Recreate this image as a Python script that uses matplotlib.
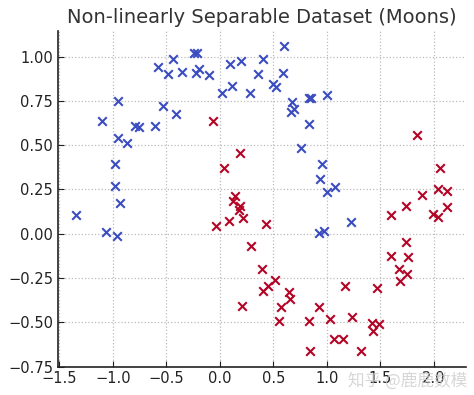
import matplotlib
matplotlib.use("Agg")
import matplotlib.pyplot as plt

# class 0 (upper moon)
x_blue = [-1.099, -0.947, -0.947, -0.866, -0.788, -0.754, -0.605, -0.981, -0.981, -0.928,
          -0.574, -0.483, -0.434, -0.356, -0.533, -0.412, -0.238, -0.213, -0.222, -0.194,
          -0.101, 0.017, 0.117, 0.098, 0.198, 0.285, 0.353,
          0.403, 0.599, 0.590, 0.493, 0.527, 0.673, 0.698, 0.664, 0.835, 0.851, 1.003,
          0.835, 0.760, 0.956, 0.938, 1.003, 1.075,
          -1.339, -1.065, -0.959, 1.224, 0.925, 0.975]
y_blue = [0.638, 0.747, 0.539, 0.514, 0.610, 0.601, 0.608, 0.396, 0.272, 0.173,
          0.939, 0.899, 0.987, 0.914, 0.721, 0.676, 1.019, 1.019, 0.907, 0.929,
          0.895, 0.792, 0.832, 0.959, 0.972, 0.792, 0.904,
          0.987, 1.060, 0.905, 0.843, 0.826, 0.743, 0.706, 0.689, 0.764, 0.764, 0.785,
          0.619, 0.486, 0.394, 0.310, 0.233, 0.265,
          0.103, 0.011, -0.013, 0.068, 0.002, 0.015]

# class 1 (lower moon)
x_red = [-0.063, 0.191, 0.039, 0.145, 0.123, 0.191,
         0.176, 0.213, 0.082, -0.036, 0.288, 0.207,
         1.839, 2.057, 1.889, 2.041, 2.122, 1.737, 2.122,
         0.434, 0.396, 0.518, 0.455, 0.403, 0.651, 0.658, 0.571, 0.555, 0.928, 0.838,
         1.031, 0.844, 1.071, 1.152, 1.174, 1.236, 1.323, 1.423, 1.485, 1.435, 1.469,
         1.600, 1.989, 2.038, 1.743, 1.600, 1.758, 1.674, 1.746, 1.681]
y_red = [0.636, 0.458, 0.373, 0.214, 0.186, 0.154,
         0.131, 0.086, 0.073, 0.045, -0.071, -0.407,
         0.557, 0.373, 0.218, 0.255, 0.240, 0.159, 0.152,
         0.053, -0.199, -0.259, -0.293, -0.325, -0.330, -0.368, -0.413, -0.495, -0.415, -0.494,
         -0.480, -0.664, -0.593, -0.593, -0.298, -0.469, -0.664, -0.503, -0.512, -0.552, -0.304,
         0.105, 0.113, 0.094, -0.047, -0.128, -0.131, -0.197, -0.225, -0.266]

xticks = [-1.5, -1.0, -0.5, 0.0, 0.5, 1.0, 1.5, 2.0]
yticks = [-0.75, -0.50, -0.25, 0.00, 0.25, 0.50, 0.75, 1.00]

fig = plt.figure(figsize=(4.74, 3.95), dpi=100)
ax = fig.add_axes([0.122, 0.072, 0.861, 0.849])

ax.scatter(x_blue, y_blue, marker='x', color='#3b4cc0', s=38, linewidths=1.5, zorder=3)
ax.scatter(x_red, y_red, marker='x', color='#b40426', s=38, linewidths=1.5, zorder=3)

ax.set_xlim(-1.513, 2.30)
ax.set_ylim(-0.75, 1.143)
ax.set_xticks(xticks)
ax.set_yticks(yticks)
ax.set_xticklabels([f"{t:.1f}".replace('-', '\u2212') for t in xticks])
ax.set_yticklabels([f"{t:.2f}".replace('-', '\u2212') for t in yticks])
ax.tick_params(direction='in', length=4, labelsize=10.5, colors='#222222')

ax.grid(True, linestyle=':', color='#bbbbbb', linewidth=0.9)
ax.set_axisbelow(True)
for s in ['top', 'right']:
    ax.spines[s].set_visible(False)
for s in ['left', 'bottom']:
    ax.spines[s].set_color('#222222')
    ax.spines[s].set_linewidth(1.2)

ax.set_title('Non-linearly Separable Dataset (Moons)', fontsize=14, color='#333333', pad=6)

# watermark
fig.text(0.985, 0.035, '知乎 @鹿鹿数模', ha='right', va='center', fontsize=12,
         color='#cccccc', alpha=0.8, family=['Noto Sans CJK SC', 'DejaVu Sans'])

fig.savefig('out.png', dpi=100)
